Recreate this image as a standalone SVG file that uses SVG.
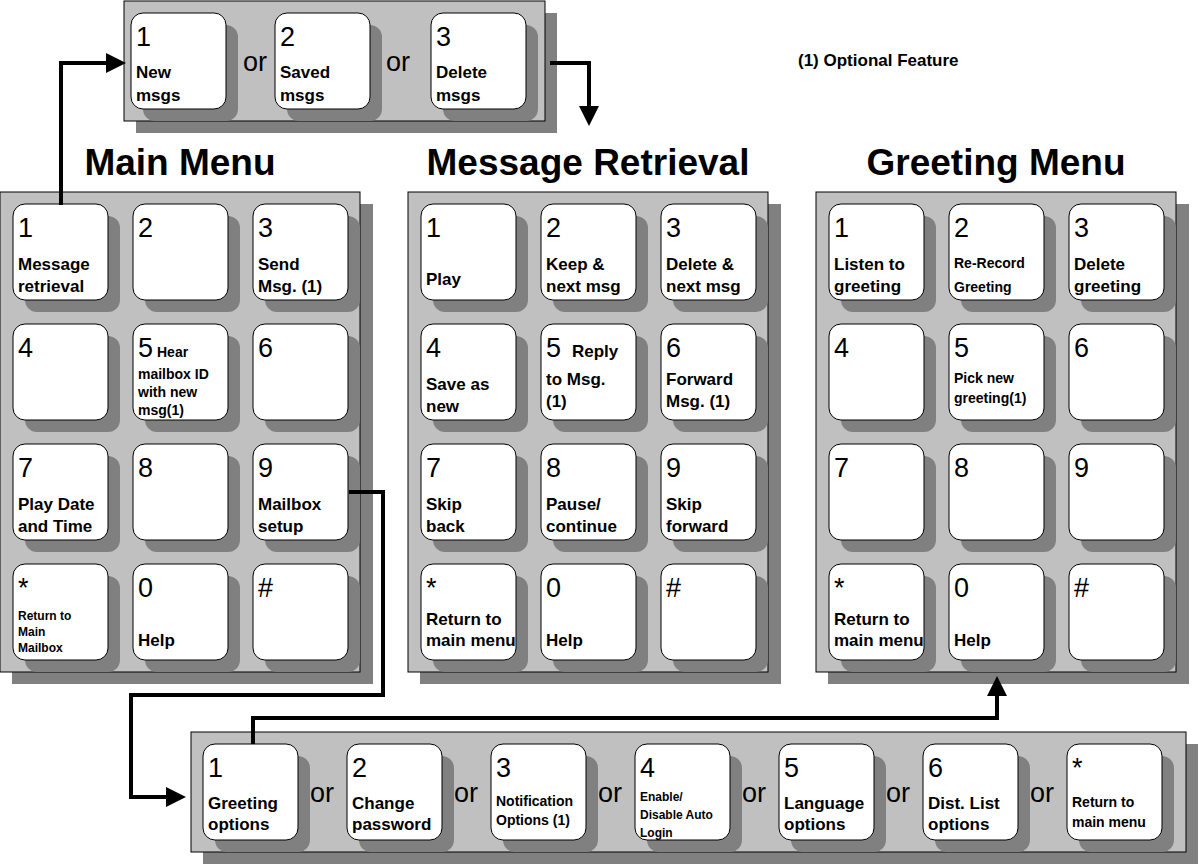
<svg xmlns="http://www.w3.org/2000/svg" width="1203" height="865" viewBox="0 0 1203 865">
<style>
.ps{fill:#808080}
.p{fill:#c0c0c0;stroke:#000;stroke-width:1}
.ks{fill:#808080}
.k{fill:#fff;stroke:#000;stroke-width:1}
text{font-family:"Liberation Sans",Arial,sans-serif;fill:#000}
.d{font-size:27px}
.l{font-size:17px;font-weight:bold}
.s{font-size:14px;font-weight:bold}
.xs{font-size:12px;font-weight:bold}
.t{font-size:37px;font-weight:bold}
.or{font-size:27px}
.c{fill:none;stroke:#000;stroke-width:4}
</style>
<defs>
<marker id="a" markerWidth="5" markerHeight="5" refX="4" refY="2.5" orient="auto" markerUnits="strokeWidth"><path d="M0,0 L5,2.5 L0,5 z" fill="#000"/></marker>
<g id="key"><rect class="ks" x="12" y="12" width="95" height="96" rx="12"/><rect class="k" width="95" height="96" rx="12"/></g>
</defs>
<text class="t" x="180" y="175" text-anchor="middle">Main Menu</text>
<text class="t" x="588" y="175" text-anchor="middle">Message Retrieval</text>
<text class="t" x="996" y="175" text-anchor="middle">Greeting Menu</text>
<text class="l" x="798" y="66">(1) Optional Feature</text>

<g id="top-panel">
<rect class="ps" x="136" y="13" width="421" height="120"/><rect class="p" x="124" y="1" width="421" height="120"/>
<use href="#key" x="131" y="13"/><use href="#key" x="275" y="13"/><use href="#key" x="431" y="13"/>
<text class="d" x="136" y="46">1</text><text class="l" x="136" y="78">New</text><text class="l" x="136" y="101">msgs</text>
<text class="or" x="243" y="71">or</text>
<text class="d" x="280" y="46">2</text><text class="l" x="280" y="78">Saved</text><text class="l" x="280" y="101">msgs</text>
<text class="or" x="386" y="71">or</text>
<text class="d" x="436" y="46">3</text><text class="l" x="436" y="78">Delete</text><text class="l" x="436" y="101">msgs</text>
</g>

<g id="main-menu">
<rect class="ps" x="12" y="204" width="361" height="480"/><rect class="p" x="0" y="192" width="360" height="480"/>
<use href="#key" x="13" y="204"/><use href="#key" x="133" y="204"/><use href="#key" x="253" y="204"/>
<use href="#key" x="13" y="324"/><use href="#key" x="133" y="324"/><use href="#key" x="253" y="324"/>
<use href="#key" x="13" y="444"/><use href="#key" x="133" y="444"/><use href="#key" x="253" y="444"/>
<use href="#key" x="13" y="564"/><use href="#key" x="133" y="564"/><use href="#key" x="253" y="564"/>
<text class="d" x="18" y="237">1</text><text class="l" x="18" y="270">Message</text><text class="l" x="18" y="292">retrieval</text>
<text class="d" x="138" y="237">2</text>
<text class="d" x="258" y="237">3</text><text class="l" x="258" y="270">Send</text><text class="l" x="258" y="292">Msg. (1)</text>
<text class="d" x="18" y="357">4</text>
<text class="d" x="138" y="357">5</text><text class="s" x="157" y="357">Hear</text><text class="s" x="138" y="379">mailbox ID</text><text class="s" x="138" y="397">with new</text><text class="s" x="138" y="415">msg(1)</text>
<text class="d" x="258" y="357">6</text>
<text class="d" x="18" y="477">7</text><text class="l" x="18" y="510">Play Date</text><text class="l" x="18" y="532">and Time</text>
<text class="d" x="138" y="477">8</text>
<text class="d" x="258" y="477">9</text><text class="l" x="258" y="510">Mailbox</text><text class="l" x="258" y="532">setup</text>
<text class="d" x="18" y="597">*</text><text class="xs" x="18" y="620">Return to</text><text class="xs" x="18" y="636">Main</text><text class="xs" x="18" y="652">Mailbox</text>
<text class="d" x="138" y="597">0</text><text class="l" x="138" y="646">Help</text>
<text class="d" x="258" y="597">#</text>
</g>

<g id="message-retrieval">
<rect class="ps" x="420" y="204" width="361" height="480"/><rect class="p" x="408" y="192" width="360" height="480"/>
<use href="#key" x="421" y="204"/><use href="#key" x="541" y="204"/><use href="#key" x="661" y="204"/>
<use href="#key" x="421" y="324"/><use href="#key" x="541" y="324"/><use href="#key" x="661" y="324"/>
<use href="#key" x="421" y="444"/><use href="#key" x="541" y="444"/><use href="#key" x="661" y="444"/>
<use href="#key" x="421" y="564"/><use href="#key" x="541" y="564"/><use href="#key" x="661" y="564"/>
<text class="d" x="426" y="237">1</text><text class="l" x="426" y="285">Play</text>
<text class="d" x="546" y="237">2</text><text class="l" x="546" y="270">Keep &amp;</text><text class="l" x="546" y="292">next msg</text>
<text class="d" x="666" y="237">3</text><text class="l" x="666" y="270">Delete &amp;</text><text class="l" x="666" y="292">next msg</text>
<text class="d" x="426" y="357">4</text><text class="l" x="426" y="390">Save as</text><text class="l" x="426" y="412">new</text>
<text class="d" x="546" y="357">5</text><text class="l" x="572" y="357">Reply</text><text class="l" x="546" y="385">to Msg.</text><text class="l" x="546" y="407">(1)</text>
<text class="d" x="666" y="357">6</text><text class="l" x="666" y="385">Forward</text><text class="l" x="666" y="407">Msg. (1)</text>
<text class="d" x="426" y="477">7</text><text class="l" x="426" y="510">Skip</text><text class="l" x="426" y="532">back</text>
<text class="d" x="546" y="477">8</text><text class="l" x="546" y="510">Pause/</text><text class="l" x="546" y="532">continue</text>
<text class="d" x="666" y="477">9</text><text class="l" x="666" y="510">Skip</text><text class="l" x="666" y="532">forward</text>
<text class="d" x="426" y="597">*</text><text class="l" x="426" y="625">Return to</text><text class="l" x="426" y="646">main menu</text>
<text class="d" x="546" y="597">0</text><text class="l" x="546" y="646">Help</text>
<text class="d" x="666" y="597">#</text>
</g>

<g id="greeting-menu">
<rect class="ps" x="828" y="204" width="361" height="480"/><rect class="p" x="816" y="192" width="360" height="480"/>
<use href="#key" x="829" y="204"/><use href="#key" x="949" y="204"/><use href="#key" x="1069" y="204"/>
<use href="#key" x="829" y="324"/><use href="#key" x="949" y="324"/><use href="#key" x="1069" y="324"/>
<use href="#key" x="829" y="444"/><use href="#key" x="949" y="444"/><use href="#key" x="1069" y="444"/>
<use href="#key" x="829" y="564"/><use href="#key" x="949" y="564"/><use href="#key" x="1069" y="564"/>
<text class="d" x="834" y="237">1</text><text class="l" x="834" y="270">Listen to</text><text class="l" x="834" y="292">greeting</text>
<text class="d" x="954" y="237">2</text><text class="s" x="954" y="268">Re-Record</text><text class="s" x="954" y="292">Greeting</text>
<text class="d" x="1074" y="237">3</text><text class="l" x="1074" y="270">Delete</text><text class="l" x="1074" y="292">greeting</text>
<text class="d" x="834" y="357">4</text>
<text class="d" x="954" y="357">5</text><text class="s" x="954" y="383">Pick new</text><text class="s" x="954" y="403">greeting(1)</text>
<text class="d" x="1074" y="357">6</text>
<text class="d" x="834" y="477">7</text>
<text class="d" x="954" y="477">8</text>
<text class="d" x="1074" y="477">9</text>
<text class="d" x="834" y="597">*</text><text class="l" x="834" y="625">Return to</text><text class="l" x="834" y="646">main menu</text>
<text class="d" x="954" y="597">0</text><text class="l" x="954" y="646">Help</text>
<text class="d" x="1074" y="597">#</text>
</g>

<g id="bottom-panel">
<rect class="ps" x="203" y="744" width="995" height="120"/><rect class="p" x="191" y="732" width="995" height="120"/>
<use href="#key" x="203" y="744"/><use href="#key" x="347" y="744"/><use href="#key" x="491" y="744"/><use href="#key" x="635" y="744"/><use href="#key" x="779" y="744"/><use href="#key" x="923" y="744"/><use href="#key" x="1067" y="744"/>
<text class="d" x="208" y="777">1</text><text class="l" x="208" y="809">Greeting</text><text class="l" x="208" y="830">options</text>
<text class="or" x="310" y="802">or</text>
<text class="d" x="352" y="777">2</text><text class="l" x="352" y="809">Change</text><text class="l" x="352" y="830">password</text>
<text class="or" x="454" y="802">or</text>
<text class="d" x="496" y="777">3</text><text class="s" x="496" y="806">Notification</text><text class="s" x="496" y="825">Options (1)</text>
<text class="or" x="598" y="802">or</text>
<text class="d" x="640" y="777">4</text><text class="xs" x="640" y="801">Enable/</text><text class="xs" x="640" y="819">Disable Auto</text><text class="xs" x="640" y="837">Login</text>
<text class="or" x="742" y="802">or</text>
<text class="d" x="784" y="777">5</text><text class="l" x="784" y="809">Language</text><text class="l" x="784" y="830">options</text>
<text class="or" x="886" y="802">or</text>
<text class="d" x="928" y="777">6</text><text class="l" x="928" y="809">Dist. List</text><text class="l" x="928" y="830">options</text>
<text class="or" x="1030" y="802">or</text>
<text class="d" x="1072" y="777">*</text><text class="s" x="1072" y="807">Return to</text><text class="s" x="1072" y="827">main menu</text>
</g>

<g id="connectors">
<path class="c" d="M61,205 V63 H122" marker-end="url(#a)"/>
<path class="c" d="M550,63 H589 V122" marker-end="url(#a)"/>
<path class="c" d="M349,492 H383 V695 H131 V797 H182" marker-end="url(#a)"/>
<path class="c" d="M253,744 V718 H997 V680" marker-end="url(#a)"/>
</g>
</svg>
